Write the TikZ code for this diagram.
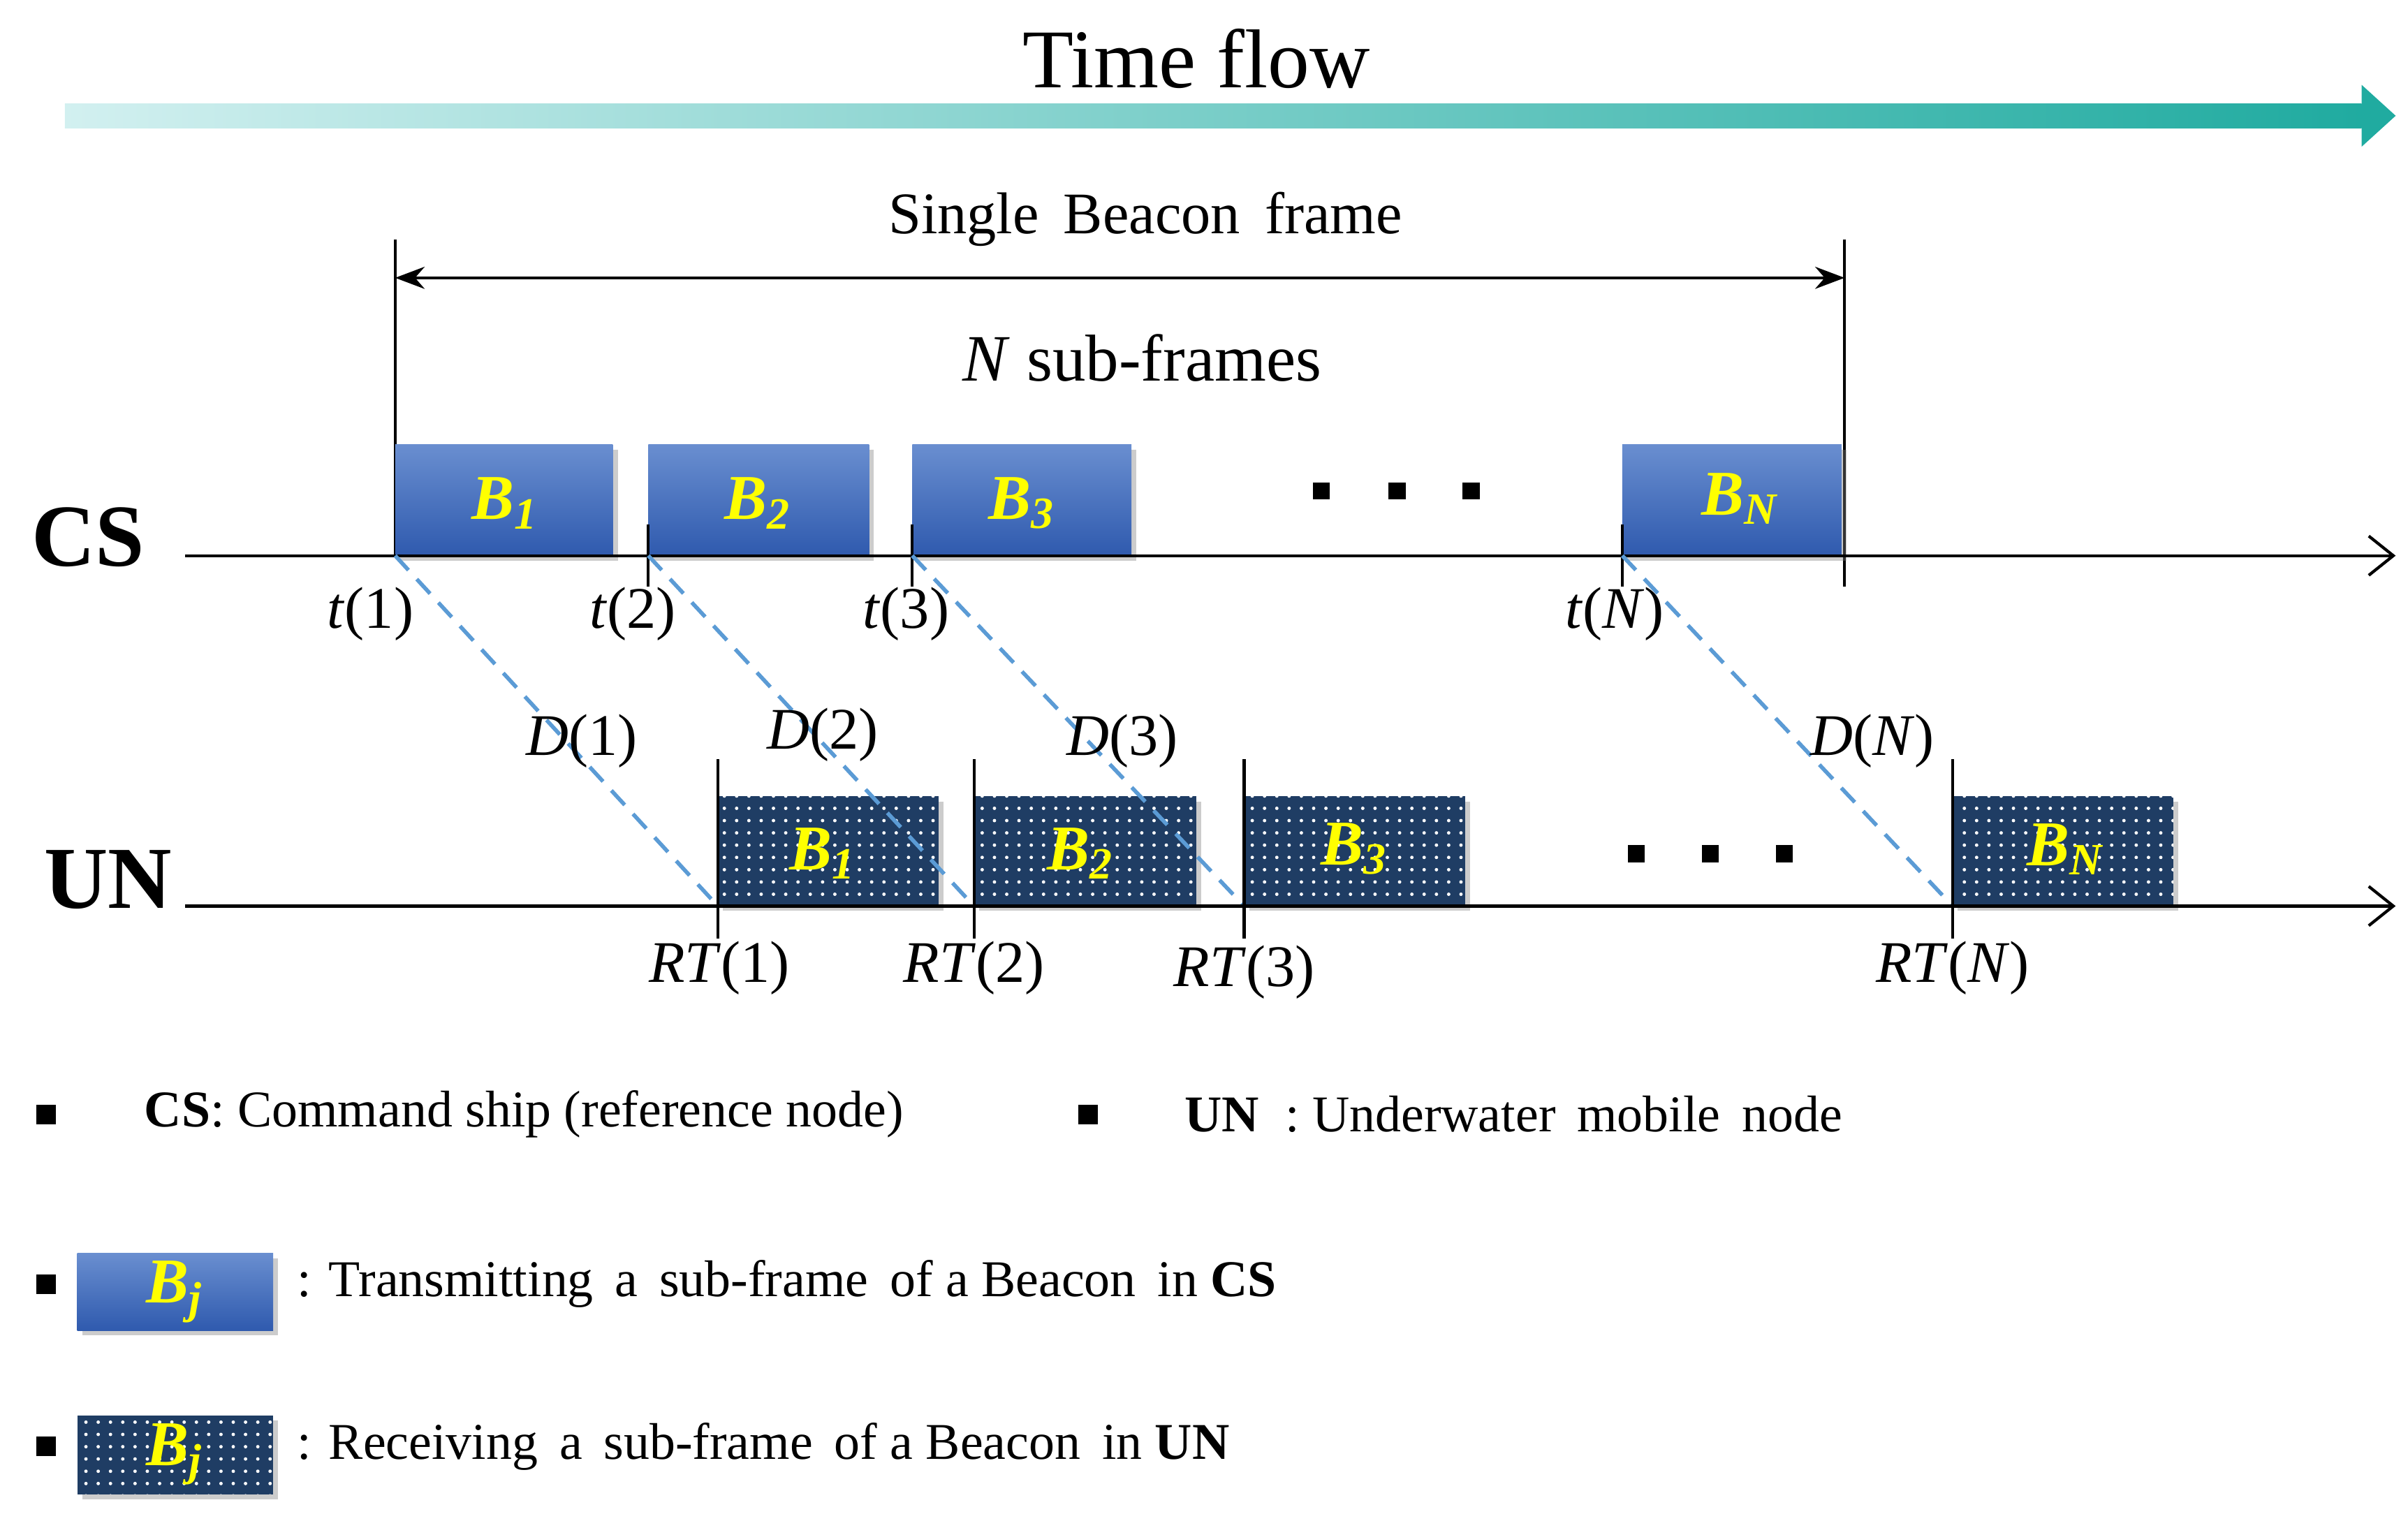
\documentclass[tikz,border=0pt]{standalone}
\usepackage{fontspec}
\setmainfont{Liberation Serif}
\usetikzlibrary{arrows.meta,patterns.meta,shadows}
\definecolor{csblue}{HTML}{4472C4}
\definecolor{csdark}{HTML}{2F5AAE}
\definecolor{navy}{HTML}{1F3D64}
\definecolor{dashblue}{HTML}{5B9BD5}
\definecolor{teal}{HTML}{20ABA0}
\definecolor{lteal}{HTML}{D2F0F0}
\definecolor{byel}{HTML}{FFFF00}
\begin{document}
\begin{tikzpicture}[x=0.0221cm,y=-0.0221cm,
  csbox/.style={draw=none,top color=csblue!80!white,bottom color=csdark,drop shadow={shadow xshift=2pt,shadow yshift=-2pt,opacity=0.4}},
  unbox/.style={draw=none,fill=navy,postaction={pattern={Dots[radius=0.7pt,distance=5pt]},pattern color=white},drop shadow={shadow xshift=2pt,shadow yshift=-2pt,opacity=0.4}},
  bl/.style={text=byel,font=\fontsize{26}{26}\selectfont\bfseries\itshape},
  lab/.style={font=\fontsize{24}{24}\selectfont},
  txt/.style={font=\fontsize{21}{21}\selectfont,anchor=west},
  axis/.style={line width=1.2pt,-{Straight Barb[length=10pt,width=16pt]}},
  tick/.style={line width=1.2pt},
  dl/.style={draw=dashblue,line width=1.6pt,dash pattern=on 8pt off 5pt},
  sq/.style={fill=black,minimum size=8pt,inner sep=0pt}]
\useasboundingbox (0,0) rectangle (1560,985);
% time flow
\node[font=\fontsize{34}{34}\selectfont] (tf) at (775,38) {Time flow};
\shade[left color=lteal,right color=teal] (42,67) rectangle (1530,83);
\fill[teal] (1530,55) -- (1552,75) -- (1530,95) -- cycle;
% frame
\coordinate (f1a) at (256,155); \coordinate (f1b) at (256,360);
\coordinate (f2a) at (1195,155); \coordinate (f2b) at (1195,380);
\draw[tick] (f1a) -- (f1b); \draw[tick] (f2a) -- (f2b);
\coordinate (da) at (256,180); \coordinate (db) at (1195,180);
\draw[line width=1.2pt,{Stealth[length=12pt]}-{Stealth[length=12pt]}] (da) -- (db);
\node[font=\fontsize{24}{24}\selectfont] (sbf) at (742,142) {Single\, Beacon\, frame};
\node[font=\fontsize{27}{27}\selectfont] (nsf) at (740,232) {\textit{N} sub-frames};
% CS
\node[font=\fontsize{36}{36}\selectfont\bfseries] (cs) at (57,348) {CS};
\coordinate (csa) at (120,360); \coordinate (csz) at (1552,360);
\fill[csbox] (256,288) rectangle (397,360);
\fill[csbox] (420,288) rectangle (563,360);
\fill[csbox] (591,288) rectangle (733,360);
\fill[csbox] (1051,288) rectangle (1193,360);
\node[bl] (b1) at (327,326) {B\textsubscript{1}};
\node[bl] (b2) at (491,326) {B\textsubscript{2}};
\node[bl] (b3) at (662,326) {B\textsubscript{3}};
\node[bl] (bn) at (1127,323) {B\textsubscript{\itshape N}};
\draw[axis] (csa) -- (csz);
\foreach \x in {420,591,1051} \draw[tick] (\x,340) -- (\x,380);
\node[lab] (t1) at (240,398) {\textit{t}(1)};
\node[lab] (t2) at (410,398) {\textit{t}(2)};
\node[lab] (t3) at (587,398) {\textit{t}(3)};
\node[lab] (tn) at (1046,398) {\textit{t}(\textit{N})};
\foreach \x in {856,905,953} \node[sq,minimum size=7pt] at (\x,318) {};
% UN
\node[font=\fontsize{36}{36}\selectfont\bfseries] (un) at (70,570) {UN};
\coordinate (una) at (120,587); \coordinate (unz) at (1552,587);
\fill[unbox] (465,516) rectangle (608,587);
\fill[unbox] (631,516) rectangle (775,587);
\fill[unbox] (806,516) rectangle (949,587);
\fill[unbox] (1265,516) rectangle (1408,587);
\node[bl] (u1) at (533,553) {B\textsubscript{1}};
\node[bl] (u2) at (700,553) {B\textsubscript{2}};
\node[bl] (u3) at (877,550) {B\textsubscript{3}};
\node[bl] (un4) at (1338,550) {B\textsubscript{\itshape N}};
% dashed
\draw[dl] (256,360) -- (465,587);
\draw[dl] (420,360) -- (631,587);
\draw[dl] (591,360) -- (806,587);
\draw[dl] (1051,360) -- (1265,587);
\draw[axis] (una) -- (unz);
\foreach \x in {465,631,806,1265} \draw[tick] (\x,492) -- (\x,608);
\node[lab] (d1) at (377,480) {\textit{D}(1)};
\node[lab] (d2) at (533,476) {\textit{D}(2)};
\node[lab] (d3) at (727,480) {\textit{D}(3)};
\node[lab] (dn) at (1213,480) {\textit{D}(\textit{N})};
\node[lab] (r1) at (466,627) {\textit{RT}(1)};
\node[lab] (r2) at (631,627) {\textit{RT}(2)};
\node[lab] (r3) at (806,630) {\textit{RT}(3)};
\node[lab] (rn) at (1265,627) {\textit{RT}(\textit{N})};
\foreach \x in {1060,1108,1156} \node[sq,minimum size=7pt] at (\x,553) {};
% legend
\node[sq] (q1) at (30,722) {};
\node[txt] (l1) at (88,722) {\textbf{CS}: Command ship (reference node)};
\node[sq] (q2) at (705,722) {};
\node[txt] (l2) at (762,722) {\textbf{UN}\ \ : Underwater\, mobile\, node};
\node[sq] (q3) at (30,832) {};
\fill[csbox] (50,812) rectangle (177,862);
\node[bl] (lb1) at (113,837) {B\textsubscript{\itshape j}};
\node[txt] (l3) at (187,832) {: Transmitting\, a\, sub-frame\, of a Beacon\, in \textbf{CS}};
\node[sq] (q4) at (30,937) {};
\fill[unbox] (50,917) rectangle (177,968);
\node[bl] (lb2) at (113,942) {B\textsubscript{\itshape j}};
\node[txt] (l4) at (187,937) {: Receiving\, a\, sub-frame\, of a Beacon\, in \textbf{UN}};
\end{tikzpicture}
\end{document}
